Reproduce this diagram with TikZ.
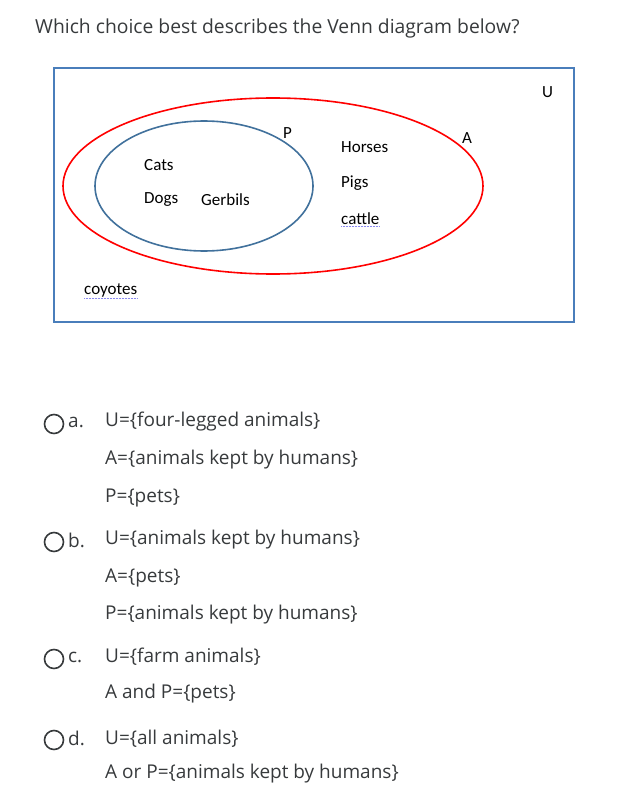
\documentclass[tikz,border=0pt]{standalone}
\usepackage{fontspec}
\setmainfont{Open Sans}
\newfontfamily\vennfont{Carlito}
\usepackage{tikz}
\definecolor{txt}{HTML}{373A3C}
\definecolor{boxblue}{HTML}{4A7EBB}
\definecolor{setblue}{HTML}{41719C}
\definecolor{spell}{HTML}{8A8AF0}
\tikzset{
  opt/.style={anchor=west,inner sep=0pt,text=txt,font=\fontsize{19}{22}\selectfont},
  venn/.style={anchor=west,inner sep=0pt,font=\vennfont\fontsize{17}{19}\selectfont},
  radio/.style={circle,draw=txt,line width=1.6pt,minimum size=19pt,inner sep=0pt}
}

\begin{document}
\begin{tikzpicture}[x=1pt,y=-1pt]
    \useasboundingbox (0,0) rectangle (627,802);
    \node[opt,font=\fontsize{19.3}{22}\selectfont] (title) at (35,28) {Which choice best describes the Venn diagram below?};
    % the diagram
    \draw[boxblue,line width=1.8pt] (54,68) rectangle (574,322);
    \draw[red,line width=1.6pt] (273,186) ellipse [x radius=210,y radius=88];
    \draw[setblue,line width=1.6pt] (204,186) ellipse [x radius=109,y radius=65];
    \node[venn] (U) at (542,92) {U};
    \node[venn] (A) at (462,138) {A};
    \node[venn] (P) at (283,133) {P};
    \node[venn] (cats) at (144,165) {Cats};
    \node[venn] (dogs) at (144,200) {Dogs};
    \node[venn] (gerbils) at (201,200) {Gerbils};
    \node[venn] (horses) at (341,147) {Horses};
    \node[venn] (pigs) at (341,183) {Pigs};
    \node[venn] (cattle) at (341,219) {cattle};
    \node[venn] (coyotes) at (84,290) {coyotes};
    \foreach \w in {cattle,coyotes}
    \draw[spell,line width=1pt,dash pattern=on 1pt off 0.5pt] ([yshift=-1.5pt]\w.south west) -- ([yshift=-1.5pt]\w.south east);
    % the choices
    \foreach \l/\y in {a/424,b/542,c/659,d/740}
    {
    \node[radio] (r\l) at (54,\y) {};
    \node[opt] (l\l) at (68,\y-2) {\l.};
    }
    \node[opt] (a1) at (105,422) {U=\{four-legged animals\}};
    \node[opt] (a2) at (105,460) {A=\{animals kept by humans\}};
    \node[opt] (a3) at (105,498) {P=\{pets\}};
    \node[opt] (b1) at (105,540) {U=\{animals kept by humans\}};
    \node[opt] (b2) at (105,578) {A=\{pets\}};
    \node[opt] (b3) at (105,615) {P=\{animals kept by humans\}};
    \node[opt] (c1) at (105,657) {U=\{farm animals\}};
    \node[opt] (c2) at (105,694) {A and P=\{pets\}};
    \node[opt] (d1) at (105,739) {U=\{all animals\}};
    \node[opt] (d2) at (105,774) {A or P=\{animals kept by humans\}};
  \end{tikzpicture}
\end{document}
